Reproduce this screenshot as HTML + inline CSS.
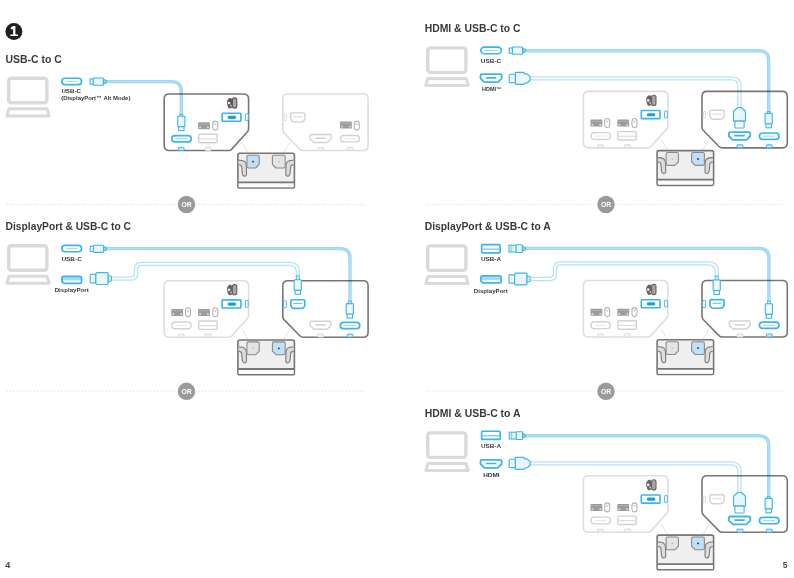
<!DOCTYPE html>
<html><head><meta charset="utf-8"><style>
html,body{margin:0;padding:0;width:794px;height:578px;overflow:hidden;background:#fff;}
svg{filter:blur(0.35px);} svg text{font-family:"Liberation Sans", sans-serif;}
</style></head><body>
<svg width="794" height="578" viewBox="0 0 794 578" style="position:absolute;left:0;top:0">
<rect width="794" height="578" fill="#fff"/>
<circle cx="13.9" cy="31.5" r="8.5" fill="#231f20"/>
<path d="M10.8,27.6 L13.2,26.1 L15.4,26.1 L15.4,34.6 L17.9,34.6 L17.9,36.0 L10.3,36.0 L10.3,34.6 L13.1,34.6 L13.1,28.9 L10.8,29.5 Z" fill="#fff"/>
<text x="5.60" y="62.80" font-size="10.2" font-weight="bold" fill="#3d3939" text-anchor="start" textLength="56.2" lengthAdjust="spacingAndGlyphs" >USB-C to C</text>
<text x="5.60" y="229.70" font-size="10.2" font-weight="bold" fill="#3d3939" text-anchor="start" textLength="125.4" lengthAdjust="spacingAndGlyphs" >DisplayPort &amp; USB-C to C</text>
<text x="424.70" y="31.70" font-size="10.2" font-weight="bold" fill="#3d3939" text-anchor="start" textLength="95.8" lengthAdjust="spacingAndGlyphs" >HDMI &amp; USB-C to C</text>
<text x="424.70" y="229.80" font-size="10.2" font-weight="bold" fill="#3d3939" text-anchor="start" textLength="126.0" lengthAdjust="spacingAndGlyphs" >DisplayPort &amp; USB-C to A</text>
<text x="424.70" y="416.60" font-size="10.2" font-weight="bold" fill="#3d3939" text-anchor="start" textLength="95.8" lengthAdjust="spacingAndGlyphs" >HDMI &amp; USB-C to A</text>
<rect x="8.70" y="78.30" width="38.20" height="24.50" rx="2.6" fill="none" stroke="#dadada" stroke-width="3.4" />
<path d="M9.0,108.8 L47.0,108.8 L49.2,115.89999999999999 L6.8,115.89999999999999 Z" fill="none" stroke="#dadada" stroke-width="3" stroke-linejoin="round"/>
<rect x="61.85" y="78.25" width="19.70" height="6.30" rx="3.15" fill="none" stroke="#3db5e6" stroke-width="1.7" />
<line x1="65.80" y1="81.40" x2="77.60" y2="81.40" stroke="#3db5e6" stroke-width="1.1" stroke-opacity="0.5"/>
<text x="61.40" y="93.00" font-size="5.9" font-weight="bold" fill="#3a3636" text-anchor="start" textLength="19.6" lengthAdjust="spacingAndGlyphs" >USB-C</text>
<text x="61.20" y="100.20" font-size="5.9" font-weight="bold" fill="#3a3636" text-anchor="start" textLength="69.2" lengthAdjust="spacingAndGlyphs" >(DisplayPort™ Alt Mode)</text>
<path d="M169.2,94.0 L243.6,94.0 Q248.6,94.0 248.6,99.0 L248.6,128.6 Q248.6,130.6 247.2,132.0 L231.79999999999998,149.1 Q230.39999999999998,150.5 228.39999999999998,150.5 L169.2,150.5 Q164.2,150.5 164.2,145.5 L164.2,99.0 Q164.2,94.0 169.2,94.0 Z" fill="#fff" stroke="#7c7575" stroke-width="1.6" stroke-linejoin="round"/>
<rect x="232.40" y="97.90" width="4.4" height="10.2" rx="2" fill="#aaa4a4" stroke="#5c5656" stroke-width="1.1"/>
<path d="M228.29999999999998,99.0 Q229.5,97.60000000000001 230.89999999999998,98.0 Q232.1,98.60000000000001 232.1,100.4 L232.1,106.80000000000001 Q231.89999999999998,108.60000000000001 230.1,108.5 Q228.29999999999998,108.4 227.89999999999998,106.60000000000001 L226.89999999999998,103.4 Q226.7,100.4 228.29999999999998,99.0 Z" fill="#5c5656"/>
<circle cx="229.00" cy="103.10" r="1.35" fill="#e8e8e8"/>
<circle cx="231.00" cy="105.60" r="0.85" fill="#d8d8d8"/>
<rect x="222.10" y="113.20" width="18.80" height="8.10" rx="0.8" fill="none" stroke="#3db5e6" stroke-width="1.6" />
<rect x="227.70" y="115.80" width="8.40" height="3.20" rx="1.4" fill="#1f9fd9" stroke="none" stroke-width="0" />
<rect x="245.40" y="113.80" width="2.80" height="6.80" rx="0.4" fill="#ffffff" stroke="#3db5e6" stroke-width="0.9" />
<rect x="198.10" y="122.20" width="11.8" height="7" rx="0.6" fill="#9c9c9c"/>
<line x1="198.70" y1="124.00" x2="209.30" y2="124.00" stroke="#b8b8b8" stroke-width="0.7"/>
<rect x="199.30" y="126.60" width="1.6" height="1.6" fill="#e6e6e6"/>
<rect x="207.10" y="126.60" width="1.6" height="1.6" fill="#e6e6e6"/>
<rect x="212.80" y="121.10" width="5.0" height="9.0" rx="2.5" fill="#fff" stroke="#b4b4b4" stroke-width="1.1"/>
<path d="M214.39999999999998,123.1 L215.29999999999998,125.1 L216.2,123.1" fill="none" stroke="#b4b4b4" stroke-width="0.7"/>
<rect x="171.75" y="135.65" width="19.40" height="6.20" rx="3.1" fill="none" stroke="#3db5e6" stroke-width="1.7" />
<line x1="175.70" y1="138.75" x2="187.20" y2="138.75" stroke="#3db5e6" stroke-width="1.1" stroke-opacity="0.5"/>
<rect x="198.70" y="134.30" width="18.40" height="8.40" rx="1.0" fill="none" stroke="#d2d2d2" stroke-width="1.4" />
<line x1="199.40" y1="138.89" x2="216.40" y2="138.89" stroke="#d2d2d2" stroke-width="1.1" stroke-opacity="0.85"/>
<rect x="178.40" y="147.40" width="5.60" height="3.00" rx="0.5" fill="#cdebf9" stroke="#3db5e6" stroke-width="1.0" />
<rect x="205.10" y="147.40" width="6.00" height="3.00" rx="0.5" fill="#f4f4f4" stroke="#d9d9d9" stroke-width="1.0" />
<path d="M287.8,94.0 L363.1,94.0 Q368.1,94.0 368.1,99.0 L368.1,145.5 Q368.1,150.5 363.1,150.5 L303.2,150.5 Q301.2,150.5 299.8,149.1 L284.2,133.2 Q282.8,131.8 282.8,129.8 L282.8,99.0 Q282.8,94.0 287.8,94.0 Z" fill="#fff" stroke="#dedede" stroke-width="1.6" stroke-linejoin="round"/>
<rect x="284.10" y="114.10" width="2.20" height="6.40" rx="0.4" fill="none" stroke="#dadada" stroke-width="0.9" />
<path d="M292.0,112.9 L303.6000000000001,112.9 Q305.00000000000006,112.9 305.00000000000006,114.30000000000001 L305.00000000000006,118.5 Q305.00000000000006,119.5 304.00000000000006,120.7 Q303.00000000000006,121.9 301.6000000000001,121.9 L294.0,121.9 Q292.6,121.9 291.6,120.7 Q290.6,119.5 290.6,118.5 L290.6,114.30000000000001 Q290.6,112.9 292.0,112.9 Z" fill="none" stroke="#d2d2d2" stroke-width="1.4" stroke-linejoin="round"/>
<line x1="293.50" y1="116.80" x2="302.10" y2="116.80" stroke="#d2d2d2" stroke-width="1.1" stroke-opacity="0.8"/>
<rect x="340.00" y="121.40" width="11.8" height="7" rx="0.6" fill="#9c9c9c"/>
<line x1="340.60" y1="123.20" x2="351.20" y2="123.20" stroke="#b8b8b8" stroke-width="0.7"/>
<rect x="341.20" y="125.80" width="1.6" height="1.6" fill="#e6e6e6"/>
<rect x="349.00" y="125.80" width="1.6" height="1.6" fill="#e6e6e6"/>
<rect x="354.30" y="121.10" width="5.0" height="9.0" rx="2.5" fill="#fff" stroke="#b4b4b4" stroke-width="1.1"/>
<path d="M355.90000000000003,123.1 L356.80000000000007,125.1 L357.70000000000005,123.1" fill="none" stroke="#b4b4b4" stroke-width="0.7"/>
<path d="M311.6,134.5 L329.6,134.5 Q331.1,134.5 331.1,136.0 L331.1,138.7 L327.90000000000003,141.90000000000003 Q327.5,142.50000000000003 326.70000000000005,142.50000000000003 L314.5,142.50000000000003 Q313.70000000000005,142.50000000000003 313.3,141.90000000000003 L310.1,138.7 L310.1,136.0 Q310.1,134.5 311.6,134.5 Z" fill="none" stroke="#d2d2d2" stroke-width="1.4" stroke-linejoin="round"/>
<line x1="316.12" y1="138.22" x2="325.08" y2="138.22" stroke="#d2d2d2" stroke-width="1.6" stroke-linecap="round"/>
<rect x="340.50" y="135.50" width="19.00" height="6.40" rx="3.2" fill="none" stroke="#d2d2d2" stroke-width="1.4" />
<line x1="344.60" y1="138.70" x2="355.40" y2="138.70" stroke="#d2d2d2" stroke-width="1.1" stroke-opacity="0.5"/>
<rect x="317.80" y="147.40" width="5.80" height="3.00" rx="0.5" fill="#f4f4f4" stroke="#d9d9d9" stroke-width="1.0" />
<rect x="347.30" y="147.40" width="5.60" height="3.00" rx="0.5" fill="#f4f4f4" stroke="#d9d9d9" stroke-width="1.0" />
<line x1="242.20" y1="142.40" x2="248.20" y2="153.00" stroke="#cccccc" stroke-width="0.6"/>
<line x1="290.20" y1="142.00" x2="283.40" y2="153.00" stroke="#cccccc" stroke-width="0.6"/>
<rect x="237.90" y="153.30" width="56.50" height="34.70" rx="1.8" fill="#efefef" stroke="#7a7474" stroke-width="1.6" />
<rect x="238.70" y="182.30" width="54.90" height="4.90" fill="#fbfbfb"/>
<line x1="238.10" y1="182.30" x2="294.20" y2="182.30" stroke="#7a7474" stroke-width="1.8"/>
<path d="M238.6,160.3 Q245.7,159.9 246.29999999999998,164.9 L246.5,174.1 Q246.29999999999998,176.5 244.1,176.1 Q242.7,175.7 242.29999999999998,173.5 L241.7,166.9 Q241.29999999999998,164.5 238.6,164.7" fill="#dcdcdc" stroke="#7e7878" stroke-width="1.1" stroke-linejoin="round"/>
<path d="M293.7,160.3 Q286.59999999999997,159.9 286.0,164.9 L285.8,174.1 Q286.0,176.5 288.2,176.1 Q289.59999999999997,175.7 290.0,173.5 L290.59999999999997,166.9 Q291.0,164.5 293.7,164.7" fill="#dcdcdc" stroke="#7e7878" stroke-width="1.1" stroke-linejoin="round"/>
<path d="M248.5,155.2 L257.59999999999997,155.2 Q259.2,155.2 259.2,156.79999999999998 L259.2,164.4 L255.6,168.0 L248.5,168.0 Q246.9,168.0 246.9,166.4 L246.9,156.79999999999998 Q246.9,155.2 248.5,155.2 Z" fill="#bfe0f6" stroke="#8a8a8a" stroke-width="1.1" stroke-linejoin="round"/>
<circle cx="253.05" cy="161.60" r="0.9" fill="#222"/>
<path d="M274.0,155.2 L283.59999999999997,155.2 Q285.2,155.2 285.2,156.79999999999998 L285.2,166.4 Q285.2,168.0 283.59999999999997,168.0 L276.0,168.0 L272.4,164.4 L272.4,156.79999999999998 Q272.4,155.2 274.0,155.2 Z" fill="#e4e4e4" stroke="#8a8a8a" stroke-width="1.1" stroke-linejoin="round"/>
<circle cx="278.80" cy="161.60" r="0.6" fill="#999"/>
<g style="mix-blend-mode:multiply"><path d="M106.5,81.6 L171.5,81.6 Q181.3,81.6 181.3,91.4 L181.3,115" fill="none" stroke="#9dd7f2" stroke-width="3.4" stroke-linecap="butt" stroke-linejoin="round"/><path d="M106.5,81.6 L171.5,81.6 Q181.3,81.6 181.3,91.4 L181.3,115" fill="none" stroke="#addff5" stroke-width="1.4" stroke-linecap="butt" stroke-linejoin="round"/></g>
<rect x="90.00" y="79.00" width="3.4" height="5.2" fill="#fff" stroke="#3db5e6" stroke-width="1.1"/>
<rect x="93.20" y="78.00" width="10.2" height="7.2" rx="0.8" fill="#eaf6fc" stroke="#3db5e6" stroke-width="1.15"/>
<path d="M103.4,79.39999999999999 L106.4,80.3 L106.4,82.89999999999999 L103.4,83.8 Z" fill="#8dd1f0" stroke="#3db5e6" stroke-width="1"/>
<rect x="179.80" y="114.40" width="3.0" height="2.40" fill="#d9f0fb" stroke="#3db5e6" stroke-width="0.9"/>
<rect x="177.70" y="116.20" width="7.2" height="10.6" rx="0.8" fill="#eaf6fc" stroke="#3db5e6" stroke-width="1.1"/>
<line x1="181.30" y1="117.80" x2="181.30" y2="125.20" stroke="#fff" stroke-width="1.6"/>
<rect x="178.60" y="126.80" width="5.4" height="3.8" fill="#fff" stroke="#3db5e6" stroke-width="1.1"/>
<rect x="8.70" y="245.70" width="38.20" height="24.50" rx="2.6" fill="none" stroke="#dadada" stroke-width="3.4" />
<path d="M9.0,276.2 L47.0,276.2 L49.2,283.3 L6.8,283.3 Z" fill="none" stroke="#dadada" stroke-width="3" stroke-linejoin="round"/>
<rect x="61.85" y="245.45" width="19.70" height="6.30" rx="3.15" fill="none" stroke="#3db5e6" stroke-width="1.7" />
<line x1="65.80" y1="248.60" x2="77.60" y2="248.60" stroke="#3db5e6" stroke-width="1.1" stroke-opacity="0.5"/>
<text x="61.40" y="261.20" font-size="5.6" font-weight="bold" fill="#3a3636" text-anchor="start" textLength="20.4" lengthAdjust="spacingAndGlyphs" >USB-C</text>
<rect x="62.50" y="276.90" width="18.40" height="3.70" rx="0.8" fill="#a6dbf3"/>
<path d="M63.5,276.29999999999995 L79.9,276.29999999999995 Q81.5,276.29999999999995 81.5,277.9 L81.5,281.7 Q81.5,283.3 79.9,283.3 L63.9,283.3 L61.9,281.3 L61.9,277.9 Q61.9,276.29999999999995 63.5,276.29999999999995 Z" fill="none" stroke="#3db5e6" stroke-width="1.8" stroke-linejoin="round"/>
<text x="71.70" y="292.40" font-size="5.6" font-weight="bold" fill="#3a3636" text-anchor="middle" textLength="34" lengthAdjust="spacingAndGlyphs" >DisplayPort</text>
<path d="M169.2,280.7 L243.6,280.7 Q248.6,280.7 248.6,285.7 L248.6,315.3 Q248.6,317.3 247.2,318.7 L231.79999999999998,335.8 Q230.39999999999998,337.2 228.39999999999998,337.2 L169.2,337.2 Q164.2,337.2 164.2,332.2 L164.2,285.7 Q164.2,280.7 169.2,280.7 Z" fill="#fff" stroke="#dedede" stroke-width="1.6" stroke-linejoin="round"/>
<rect x="232.40" y="284.60" width="4.4" height="10.2" rx="2" fill="#aaa4a4" stroke="#676262" stroke-width="1.1"/>
<path d="M228.29999999999998,285.7 Q229.5,284.29999999999995 230.89999999999998,284.7 Q232.1,285.29999999999995 232.1,287.09999999999997 L232.1,293.49999999999994 Q231.89999999999998,295.29999999999995 230.1,295.2 Q228.29999999999998,295.09999999999997 227.89999999999998,293.29999999999995 L226.89999999999998,290.09999999999997 Q226.7,287.09999999999997 228.29999999999998,285.7 Z" fill="#676262"/>
<circle cx="229.00" cy="289.80" r="1.35" fill="#e8e8e8"/>
<circle cx="231.00" cy="292.30" r="0.85" fill="#d8d8d8"/>
<rect x="222.10" y="299.90" width="18.80" height="8.10" rx="0.8" fill="none" stroke="#3db5e6" stroke-width="1.6" />
<rect x="227.70" y="302.50" width="8.40" height="3.20" rx="1.4" fill="#1f9fd9" stroke="none" stroke-width="0" />
<rect x="245.40" y="300.50" width="2.80" height="6.80" rx="0.4" fill="#ffffff" stroke="#3db5e6" stroke-width="0.9" />
<rect x="171.30" y="308.90" width="11.8" height="7" rx="0.6" fill="#9c9c9c"/>
<line x1="171.90" y1="310.70" x2="182.50" y2="310.70" stroke="#b8b8b8" stroke-width="0.7"/>
<rect x="172.50" y="313.30" width="1.6" height="1.6" fill="#e6e6e6"/>
<rect x="180.30" y="313.30" width="1.6" height="1.6" fill="#e6e6e6"/>
<rect x="185.50" y="307.80" width="5.0" height="9.0" rx="2.5" fill="#fff" stroke="#b4b4b4" stroke-width="1.1"/>
<path d="M187.09999999999997,309.8 L187.99999999999997,311.8 L188.89999999999998,309.8" fill="none" stroke="#b4b4b4" stroke-width="0.7"/>
<rect x="198.10" y="308.90" width="11.8" height="7" rx="0.6" fill="#9c9c9c"/>
<line x1="198.70" y1="310.70" x2="209.30" y2="310.70" stroke="#b8b8b8" stroke-width="0.7"/>
<rect x="199.30" y="313.30" width="1.6" height="1.6" fill="#e6e6e6"/>
<rect x="207.10" y="313.30" width="1.6" height="1.6" fill="#e6e6e6"/>
<rect x="212.80" y="307.80" width="5.0" height="9.0" rx="2.5" fill="#fff" stroke="#b4b4b4" stroke-width="1.1"/>
<path d="M214.39999999999998,309.8 L215.29999999999998,311.8 L216.2,309.8" fill="none" stroke="#b4b4b4" stroke-width="0.7"/>
<rect x="171.80" y="322.00" width="19.40" height="6.80" rx="3.3999999999999995" fill="none" stroke="#d2d2d2" stroke-width="1.4" />
<line x1="175.90" y1="325.40" x2="187.10" y2="325.40" stroke="#d2d2d2" stroke-width="1.1" stroke-opacity="0.5"/>
<rect x="198.70" y="321.00" width="18.40" height="8.40" rx="1.0" fill="none" stroke="#d2d2d2" stroke-width="1.4" />
<line x1="199.40" y1="325.59" x2="216.40" y2="325.59" stroke="#d2d2d2" stroke-width="1.1" stroke-opacity="0.85"/>
<rect x="178.40" y="334.10" width="5.60" height="3.00" rx="0.5" fill="#f4f4f4" stroke="#d9d9d9" stroke-width="1.0" />
<rect x="205.10" y="334.10" width="6.00" height="3.00" rx="0.5" fill="#f4f4f4" stroke="#d9d9d9" stroke-width="1.0" />
<path d="M287.8,280.7 L363.1,280.7 Q368.1,280.7 368.1,285.7 L368.1,332.2 Q368.1,337.2 363.1,337.2 L303.2,337.2 Q301.2,337.2 299.8,335.8 L284.2,319.9 Q282.8,318.5 282.8,316.5 L282.8,285.7 Q282.8,280.7 287.8,280.7 Z" fill="#fff" stroke="#7c7575" stroke-width="1.6" stroke-linejoin="round"/>
<rect x="283.50" y="300.80" width="2.90" height="6.90" rx="0.4" fill="#ffffff" stroke="#3db5e6" stroke-width="0.9" />
<path d="M292.15000000000003,299.75 L303.45000000000005,299.75 Q304.85,299.75 304.85,301.15 L304.85,305.04999999999995 Q304.85,306.04999999999995 303.85,307.24999999999994 Q302.85,308.44999999999993 301.45000000000005,308.44999999999993 L294.15000000000003,308.44999999999993 Q292.75000000000006,308.44999999999993 291.75000000000006,307.24999999999994 Q290.75000000000006,306.04999999999995 290.75000000000006,305.04999999999995 L290.75000000000006,301.15 Q290.75000000000006,299.75 292.15000000000003,299.75 Z" fill="none" stroke="#3db5e6" stroke-width="1.7" stroke-linejoin="round"/>
<line x1="293.50" y1="303.50" x2="302.10" y2="303.50" stroke="#3db5e6" stroke-width="1.1" stroke-opacity="0.8"/>
<path d="M311.6,321.2 L329.6,321.2 Q331.1,321.2 331.1,322.7 L331.1,325.4 L327.90000000000003,328.59999999999997 Q327.5,329.2 326.70000000000005,329.2 L314.5,329.2 Q313.70000000000005,329.2 313.3,328.59999999999997 L310.1,325.4 L310.1,322.7 Q310.1,321.2 311.6,321.2 Z" fill="none" stroke="#d2d2d2" stroke-width="1.4" stroke-linejoin="round"/>
<line x1="316.12" y1="324.92" x2="325.08" y2="324.92" stroke="#d2d2d2" stroke-width="1.6" stroke-linecap="round"/>
<rect x="340.25" y="322.35" width="19.50" height="6.30" rx="3.15" fill="none" stroke="#3db5e6" stroke-width="1.7" />
<line x1="344.20" y1="325.50" x2="355.80" y2="325.50" stroke="#3db5e6" stroke-width="1.1" stroke-opacity="0.5"/>
<rect x="317.80" y="334.10" width="5.80" height="3.00" rx="0.5" fill="#f4f4f4" stroke="#d9d9d9" stroke-width="1.0" />
<rect x="347.30" y="334.10" width="5.60" height="3.00" rx="0.5" fill="#cdebf9" stroke="#3db5e6" stroke-width="1.0" />
<line x1="242.20" y1="329.10" x2="248.20" y2="339.70" stroke="#cccccc" stroke-width="0.6"/>
<line x1="290.20" y1="328.70" x2="283.40" y2="339.70" stroke="#cccccc" stroke-width="0.6"/>
<rect x="237.90" y="340.00" width="56.50" height="34.70" rx="1.8" fill="#efefef" stroke="#7a7474" stroke-width="1.6" />
<rect x="238.70" y="369.00" width="54.90" height="4.90" fill="#fbfbfb"/>
<line x1="238.10" y1="369.00" x2="294.20" y2="369.00" stroke="#7a7474" stroke-width="1.8"/>
<path d="M238.6,347.0 Q245.7,346.59999999999997 246.29999999999998,351.59999999999997 L246.5,360.8 Q246.29999999999998,363.2 244.1,362.8 Q242.7,362.4 242.29999999999998,360.2 L241.7,353.59999999999997 Q241.29999999999998,351.2 238.6,351.4" fill="#dcdcdc" stroke="#7e7878" stroke-width="1.1" stroke-linejoin="round"/>
<path d="M293.7,347.0 Q286.59999999999997,346.59999999999997 286.0,351.59999999999997 L285.8,360.8 Q286.0,363.2 288.2,362.8 Q289.59999999999997,362.4 290.0,360.2 L290.59999999999997,353.59999999999997 Q291.0,351.2 293.7,351.4" fill="#dcdcdc" stroke="#7e7878" stroke-width="1.1" stroke-linejoin="round"/>
<path d="M248.5,341.9 L257.59999999999997,341.9 Q259.2,341.9 259.2,343.5 L259.2,351.09999999999997 L255.6,354.7 L248.5,354.7 Q246.9,354.7 246.9,353.09999999999997 L246.9,343.5 Q246.9,341.9 248.5,341.9 Z" fill="#e4e4e4" stroke="#8a8a8a" stroke-width="1.1" stroke-linejoin="round"/>
<circle cx="253.05" cy="348.30" r="0.6" fill="#999"/>
<path d="M274.0,341.9 L283.59999999999997,341.9 Q285.2,341.9 285.2,343.5 L285.2,353.09999999999997 Q285.2,354.7 283.59999999999997,354.7 L276.0,354.7 L272.4,351.09999999999997 L272.4,343.5 Q272.4,341.9 274.0,341.9 Z" fill="#bfe0f6" stroke="#8a8a8a" stroke-width="1.1" stroke-linejoin="round"/>
<circle cx="278.80" cy="348.30" r="0.9" fill="#222"/>
<g style="mix-blend-mode:multiply"><path d="M106.8,248.6 L340.5,248.6 Q350,248.6 350,258 L350,301.6" fill="none" stroke="#9dd7f2" stroke-width="3.4" stroke-linecap="butt" stroke-linejoin="round"/><path d="M106.8,248.6 L340.5,248.6 Q350,248.6 350,258 L350,301.6" fill="none" stroke="#addff5" stroke-width="1.4" stroke-linecap="butt" stroke-linejoin="round"/></g>
<g style="mix-blend-mode:multiply"><path d="M111.6,278.6 L130.8,278.6 Q136,278.6 136,273.4 L136,269.1 Q136,263.9 141.2,263.9 L289.8,263.9 Q297.8,263.9 297.8,271.9 L297.8,276" fill="none" stroke="#b8e2f6" stroke-width="4.4" stroke-linecap="butt" stroke-linejoin="round"/><path d="M111.6,278.6 L130.8,278.6 Q136,278.6 136,273.4 L136,269.1 Q136,263.9 141.2,263.9 L289.8,263.9 Q297.8,263.9 297.8,271.9 L297.8,276" fill="none" stroke="#ffffff" stroke-width="1.8" stroke-linecap="butt" stroke-linejoin="round"/></g>
<rect x="90.20" y="246.20" width="3.4" height="5.2" fill="#fff" stroke="#3db5e6" stroke-width="1.1"/>
<rect x="93.40" y="245.20" width="10.2" height="7.2" rx="0.8" fill="#eaf6fc" stroke="#3db5e6" stroke-width="1.15"/>
<path d="M103.6,246.60000000000002 L106.6,247.5 L106.6,250.10000000000002 L103.6,251.0 Z" fill="#8dd1f0" stroke="#3db5e6" stroke-width="1"/>
<rect x="90.20" y="274.40" width="5.6" height="8.4" rx="0.8" fill="#fff" stroke="#3db5e6" stroke-width="1.15"/>
<line x1="92.80" y1="276.00" x2="92.80" y2="281.20" stroke="#3db5e6" stroke-opacity="0.3" stroke-width="0.8"/>
<rect x="95.80" y="272.70" width="12.4" height="11.8" rx="1.2" fill="#eaf5fc" stroke="#3db5e6" stroke-width="1.2"/>
<path d="M108.19999999999999,275.40000000000003 L111.39999999999999,276.20000000000005 L111.39999999999999,281.0 L108.19999999999999,281.8 Z" fill="#d4eefa" stroke="#3db5e6" stroke-width="1"/>
<rect x="296.30" y="275.80" width="3.0" height="4.60" fill="#d9f0fb" stroke="#3db5e6" stroke-width="0.9"/>
<rect x="294.20" y="279.80" width="7.2" height="10.6" rx="0.8" fill="#eaf6fc" stroke="#3db5e6" stroke-width="1.1"/>
<line x1="297.80" y1="281.40" x2="297.80" y2="288.80" stroke="#fff" stroke-width="1.6"/>
<rect x="295.10" y="290.40" width="5.4" height="3.8" fill="#fff" stroke="#3db5e6" stroke-width="1.1"/>
<rect x="348.30" y="301.00" width="3.0" height="3.20" fill="#d9f0fb" stroke="#3db5e6" stroke-width="0.9"/>
<rect x="346.20" y="303.60" width="7.2" height="10.6" rx="0.8" fill="#eaf6fc" stroke="#3db5e6" stroke-width="1.1"/>
<line x1="349.80" y1="305.20" x2="349.80" y2="312.60" stroke="#fff" stroke-width="1.6"/>
<rect x="347.10" y="314.20" width="5.4" height="3.8" fill="#fff" stroke="#3db5e6" stroke-width="1.1"/>
<rect x="427.70" y="47.90" width="38.20" height="24.50" rx="2.6" fill="none" stroke="#dadada" stroke-width="3.4" />
<path d="M428.0,78.4 L466.0,78.4 L468.2,85.5 L425.8,85.5 Z" fill="none" stroke="#dadada" stroke-width="3" stroke-linejoin="round"/>
<rect x="480.85" y="47.05" width="20.50" height="6.70" rx="3.35" fill="none" stroke="#3db5e6" stroke-width="1.7" />
<line x1="484.80" y1="50.40" x2="497.40" y2="50.40" stroke="#3db5e6" stroke-width="1.1" stroke-opacity="0.5"/>
<text x="480.80" y="62.80" font-size="5.6" font-weight="bold" fill="#3a3636" text-anchor="start" textLength="20.4" lengthAdjust="spacingAndGlyphs" >USB-C</text>
<path d="M482.0,74.2 L500.20000000000005,74.2 Q501.70000000000005,74.2 501.70000000000005,75.7 L501.70000000000005,78.4 L498.50000000000006,81.6 Q498.1,82.19999999999999 497.30000000000007,82.19999999999999 L484.9,82.19999999999999 Q484.1,82.19999999999999 483.7,81.6 L480.5,78.4 L480.5,75.7 Q480.5,74.2 482.0,74.2 Z" fill="none" stroke="#3db5e6" stroke-width="1.8" stroke-linejoin="round"/>
<line x1="486.50" y1="77.91" x2="495.70" y2="77.91" stroke="#3db5e6" stroke-width="1.6" stroke-linecap="round"/>
<text x="482.00" y="91.40" font-size="5.6" font-weight="bold" fill="#3a3636" text-anchor="start" textLength="19.6" lengthAdjust="spacingAndGlyphs" >HDMI™</text>
<path d="M588.4,91.35 L662.8,91.35 Q667.8,91.35 667.8,96.35 L667.8,125.94999999999999 Q667.8,127.94999999999999 666.4,129.35 L651.0,146.45 Q649.6,147.85 647.6,147.85 L588.4,147.85 Q583.4,147.85 583.4,142.85 L583.4,96.35 Q583.4,91.35 588.4,91.35 Z" fill="#fff" stroke="#dedede" stroke-width="1.6" stroke-linejoin="round"/>
<rect x="651.60" y="95.25" width="4.4" height="10.2" rx="2" fill="#aaa4a4" stroke="#676262" stroke-width="1.1"/>
<path d="M647.5,96.35 Q648.6999999999999,94.95 650.1,95.35 Q651.3,95.95 651.3,97.75 L651.3,104.15 Q651.1,105.95 649.3,105.85 Q647.5,105.75 647.1,103.95 L646.1,100.75 Q645.9,97.75 647.5,96.35 Z" fill="#676262"/>
<circle cx="648.20" cy="100.45" r="1.35" fill="#e8e8e8"/>
<circle cx="650.20" cy="102.95" r="0.85" fill="#d8d8d8"/>
<rect x="641.30" y="110.55" width="18.80" height="8.10" rx="0.8" fill="none" stroke="#3db5e6" stroke-width="1.6" />
<rect x="646.90" y="113.15" width="8.40" height="3.20" rx="1.4" fill="#1f9fd9" stroke="none" stroke-width="0" />
<rect x="664.60" y="111.15" width="2.80" height="6.80" rx="0.4" fill="#ffffff" stroke="#3db5e6" stroke-width="0.9" />
<rect x="590.50" y="119.55" width="11.8" height="7" rx="0.6" fill="#9c9c9c"/>
<line x1="591.10" y1="121.35" x2="601.70" y2="121.35" stroke="#b8b8b8" stroke-width="0.7"/>
<rect x="591.70" y="123.95" width="1.6" height="1.6" fill="#e6e6e6"/>
<rect x="599.50" y="123.95" width="1.6" height="1.6" fill="#e6e6e6"/>
<rect x="604.70" y="118.45" width="5.0" height="9.0" rx="2.5" fill="#fff" stroke="#b4b4b4" stroke-width="1.1"/>
<path d="M606.3000000000001,120.44999999999999 L607.2,122.44999999999999 L608.1,120.44999999999999" fill="none" stroke="#b4b4b4" stroke-width="0.7"/>
<rect x="617.30" y="119.55" width="11.8" height="7" rx="0.6" fill="#9c9c9c"/>
<line x1="617.90" y1="121.35" x2="628.50" y2="121.35" stroke="#b8b8b8" stroke-width="0.7"/>
<rect x="618.50" y="123.95" width="1.6" height="1.6" fill="#e6e6e6"/>
<rect x="626.30" y="123.95" width="1.6" height="1.6" fill="#e6e6e6"/>
<rect x="632.00" y="118.45" width="5.0" height="9.0" rx="2.5" fill="#fff" stroke="#b4b4b4" stroke-width="1.1"/>
<path d="M633.6,120.44999999999999 L634.5,122.44999999999999 L635.4,120.44999999999999" fill="none" stroke="#b4b4b4" stroke-width="0.7"/>
<rect x="591.00" y="132.65" width="19.40" height="6.80" rx="3.3999999999999995" fill="none" stroke="#d2d2d2" stroke-width="1.4" />
<line x1="595.10" y1="136.05" x2="606.30" y2="136.05" stroke="#d2d2d2" stroke-width="1.1" stroke-opacity="0.5"/>
<rect x="617.90" y="131.65" width="18.40" height="8.40" rx="1.0" fill="none" stroke="#d2d2d2" stroke-width="1.4" />
<line x1="618.60" y1="136.24" x2="635.60" y2="136.24" stroke="#d2d2d2" stroke-width="1.1" stroke-opacity="0.85"/>
<rect x="597.60" y="144.75" width="5.60" height="3.00" rx="0.5" fill="#f4f4f4" stroke="#d9d9d9" stroke-width="1.0" />
<rect x="624.30" y="144.75" width="6.00" height="3.00" rx="0.5" fill="#f4f4f4" stroke="#d9d9d9" stroke-width="1.0" />
<path d="M707.0,91.35 L782.3,91.35 Q787.3,91.35 787.3,96.35 L787.3,142.85 Q787.3,147.85 782.3,147.85 L722.4,147.85 Q720.4,147.85 719.0,146.45 L703.4,130.55 Q702.0,129.14999999999998 702.0,127.14999999999999 L702.0,96.35 Q702.0,91.35 707.0,91.35 Z" fill="#fff" stroke="#7c7575" stroke-width="1.6" stroke-linejoin="round"/>
<rect x="703.30" y="111.45" width="2.20" height="6.40" rx="0.4" fill="none" stroke="#dadada" stroke-width="0.9" />
<path d="M711.2,110.25 L722.8,110.25 Q724.1999999999999,110.25 724.1999999999999,111.65 L724.1999999999999,115.85 Q724.1999999999999,116.85 723.1999999999999,118.05 Q722.1999999999999,119.25 720.8,119.25 L713.2,119.25 Q711.8000000000001,119.25 710.8000000000001,118.05 Q709.8000000000001,116.85 709.8000000000001,115.85 L709.8000000000001,111.65 Q709.8000000000001,110.25 711.2,110.25 Z" fill="none" stroke="#d2d2d2" stroke-width="1.4" stroke-linejoin="round"/>
<line x1="712.70" y1="114.15" x2="721.30" y2="114.15" stroke="#d2d2d2" stroke-width="1.1" stroke-opacity="0.8"/>
<path d="M730.4,132.04999999999998 L748.8000000000001,132.04999999999998 Q750.3000000000001,132.04999999999998 750.3000000000001,133.54999999999998 L750.3000000000001,136.24999999999997 L747.1,139.24999999999997 Q746.7,139.84999999999997 745.9000000000001,139.84999999999997 L733.3,139.84999999999997 Q732.5,139.84999999999997 732.1,139.24999999999997 L728.9,136.24999999999997 L728.9,133.54999999999998 Q728.9,132.04999999999998 730.4,132.04999999999998 Z" fill="none" stroke="#3db5e6" stroke-width="1.8" stroke-linejoin="round"/>
<line x1="734.96" y1="135.66" x2="744.24" y2="135.66" stroke="#3db5e6" stroke-width="1.6" stroke-linecap="round"/>
<rect x="759.45" y="133.00" width="19.50" height="6.30" rx="3.15" fill="none" stroke="#3db5e6" stroke-width="1.7" />
<line x1="763.40" y1="136.15" x2="775.00" y2="136.15" stroke="#3db5e6" stroke-width="1.1" stroke-opacity="0.5"/>
<rect x="737.00" y="144.75" width="5.80" height="3.00" rx="0.5" fill="#cdebf9" stroke="#3db5e6" stroke-width="1.0" />
<rect x="766.50" y="144.75" width="5.60" height="3.00" rx="0.5" fill="#cdebf9" stroke="#3db5e6" stroke-width="1.0" />
<line x1="661.40" y1="139.75" x2="667.40" y2="150.35" stroke="#cccccc" stroke-width="0.6"/>
<line x1="709.40" y1="139.35" x2="702.60" y2="150.35" stroke="#cccccc" stroke-width="0.6"/>
<rect x="657.10" y="150.65" width="56.50" height="34.70" rx="1.8" fill="#efefef" stroke="#7a7474" stroke-width="1.6" />
<rect x="657.90" y="179.65" width="54.90" height="4.90" fill="#fbfbfb"/>
<line x1="657.30" y1="179.65" x2="713.40" y2="179.65" stroke="#7a7474" stroke-width="1.8"/>
<path d="M657.8,157.65 Q664.9,157.25 665.5,162.25 L665.6999999999999,171.45 Q665.5,173.85 663.3,173.45 Q661.9,173.04999999999998 661.5,170.85 L660.9,164.25 Q660.5,161.85 657.8,162.04999999999998" fill="#dcdcdc" stroke="#7e7878" stroke-width="1.1" stroke-linejoin="round"/>
<path d="M712.9,157.65 Q705.8,157.25 705.1999999999999,162.25 L705.0,171.45 Q705.1999999999999,173.85 707.4,173.45 Q708.8,173.04999999999998 709.1999999999999,170.85 L709.8,164.25 Q710.1999999999999,161.85 712.9,162.04999999999998" fill="#dcdcdc" stroke="#7e7878" stroke-width="1.1" stroke-linejoin="round"/>
<path d="M667.6999999999999,152.54999999999998 L676.7999999999998,152.54999999999998 Q678.3999999999999,152.54999999999998 678.3999999999999,154.14999999999998 L678.3999999999999,161.75 L674.7999999999998,165.35 L667.6999999999999,165.35 Q666.0999999999999,165.35 666.0999999999999,163.75 L666.0999999999999,154.14999999999998 Q666.0999999999999,152.54999999999998 667.6999999999999,152.54999999999998 Z" fill="#e4e4e4" stroke="#8a8a8a" stroke-width="1.1" stroke-linejoin="round"/>
<circle cx="672.25" cy="158.95" r="0.6" fill="#999"/>
<path d="M693.1999999999999,152.54999999999998 L702.7999999999998,152.54999999999998 Q704.3999999999999,152.54999999999998 704.3999999999999,154.14999999999998 L704.3999999999999,163.75 Q704.3999999999999,165.35 702.7999999999998,165.35 L695.1999999999999,165.35 L691.5999999999999,161.75 L691.5999999999999,154.14999999999998 Q691.5999999999999,152.54999999999998 693.1999999999999,152.54999999999998 Z" fill="#bfe0f6" stroke="#8a8a8a" stroke-width="1.1" stroke-linejoin="round"/>
<circle cx="698.00" cy="158.95" r="0.9" fill="#222"/>
<g style="mix-blend-mode:multiply"><path d="M526.2,50.8 L759,50.8 Q768.7,50.8 768.7,60.4 L768.7,112" fill="none" stroke="#9dd7f2" stroke-width="3.4" stroke-linecap="butt" stroke-linejoin="round"/><path d="M526.2,50.8 L759,50.8 Q768.7,50.8 768.7,60.4 L768.7,112" fill="none" stroke="#addff5" stroke-width="1.4" stroke-linecap="butt" stroke-linejoin="round"/></g>
<g style="mix-blend-mode:multiply"><path d="M531,78.4 L731.5,78.4 Q739.5,78.4 739.5,86.4 L739.5,108" fill="none" stroke="#b8e2f6" stroke-width="4.4" stroke-linecap="butt" stroke-linejoin="round"/><path d="M531,78.4 L731.5,78.4 Q739.5,78.4 739.5,86.4 L739.5,108" fill="none" stroke="#ffffff" stroke-width="1.8" stroke-linecap="butt" stroke-linejoin="round"/></g>
<rect x="509.20" y="48.00" width="3.4" height="5.2" fill="#fff" stroke="#3db5e6" stroke-width="1.1"/>
<rect x="512.40" y="47.00" width="10.2" height="7.2" rx="0.8" fill="#eaf6fc" stroke="#3db5e6" stroke-width="1.15"/>
<path d="M522.6,48.4 L525.6,49.300000000000004 L525.6,51.9 L522.6,52.800000000000004 Z" fill="#8dd1f0" stroke="#3db5e6" stroke-width="1"/>
<rect x="509.20" y="74.20" width="6.2" height="8.4" rx="1" fill="#fff" stroke="#3db5e6" stroke-width="1.15"/>
<line x1="512.00" y1="75.80" x2="512.00" y2="81.00" stroke="#3db5e6" stroke-opacity="0.3" stroke-width="0.8"/>
<path d="M515.4,72.80000000000001 Q515.4,72.4 516.0,72.4 L523.8000000000001,72.4 L525.0,73.80000000000001 L527.2,73.80000000000001 L530.2,76.80000000000001 L530.2,80.0 L527.2,83.0 L525.0,83.0 L523.8000000000001,84.4 L516.0,84.4 Q515.4,84.4 515.4,84.0 Z" fill="#eaf5fc" stroke="#3db5e6" stroke-width="1.2" stroke-linejoin="round"/>
<rect x="767.20" y="111.60" width="3.0" height="2.40" fill="#d9f0fb" stroke="#3db5e6" stroke-width="0.9"/>
<rect x="765.10" y="113.40" width="7.2" height="10.6" rx="0.8" fill="#eaf6fc" stroke="#3db5e6" stroke-width="1.1"/>
<line x1="768.70" y1="115.00" x2="768.70" y2="122.40" stroke="#fff" stroke-width="1.6"/>
<rect x="766.00" y="124.00" width="5.4" height="3.8" fill="#fff" stroke="#3db5e6" stroke-width="1.1"/>
<path d="M737.9,107.5 L741.1,107.5 L744.5,110.3 Q745.5,111.1 745.5,112.3 L745.5,121.1 L733.5,121.1 L733.5,112.3 Q733.5,111.1 734.5,110.3 Z" fill="#eaf5fc" stroke="#3db5e6" stroke-width="1.2" stroke-linejoin="round"/>
<rect x="734.90" y="121.10" width="9.2" height="6.9" rx="0.8" fill="#fff" stroke="#3db5e6" stroke-width="1.15"/>
<line x1="736.90" y1="124.10" x2="742.10" y2="124.10" stroke="#3db5e6" stroke-opacity="0.3" stroke-width="0.8"/>
<rect x="427.70" y="245.90" width="38.20" height="24.50" rx="2.6" fill="none" stroke="#dadada" stroke-width="3.4" />
<path d="M428.0,276.4 L466.0,276.4 L468.2,283.5 L425.8,283.5 Z" fill="none" stroke="#dadada" stroke-width="3" stroke-linejoin="round"/>
<rect x="481.65" y="244.65" width="18.50" height="8.20" rx="1.0" fill="none" stroke="#3db5e6" stroke-width="1.7" />
<line x1="482.50" y1="249.15" x2="499.30" y2="249.15" stroke="#3db5e6" stroke-width="1.1" stroke-opacity="0.85"/>
<text x="481.00" y="261.00" font-size="5.6" font-weight="bold" fill="#3a3636" text-anchor="start" textLength="20" lengthAdjust="spacingAndGlyphs" >USB-A</text>
<rect x="481.50" y="276.50" width="19.00" height="3.70" rx="0.8" fill="#a6dbf3"/>
<path d="M482.5,275.9 L499.5,275.9 Q501.1,275.9 501.1,277.5 L501.1,281.3 Q501.1,282.90000000000003 499.5,282.90000000000003 L482.9,282.90000000000003 L480.9,280.90000000000003 L480.9,277.5 Q480.9,275.9 482.5,275.9 Z" fill="none" stroke="#3db5e6" stroke-width="1.8" stroke-linejoin="round"/>
<text x="490.80" y="292.60" font-size="5.6" font-weight="bold" fill="#3a3636" text-anchor="middle" textLength="34" lengthAdjust="spacingAndGlyphs" >DisplayPort</text>
<path d="M588.4,280.5 L662.8,280.5 Q667.8,280.5 667.8,285.5 L667.8,315.1 Q667.8,317.1 666.4,318.5 L651.0,335.6 Q649.6,337.0 647.6,337.0 L588.4,337.0 Q583.4,337.0 583.4,332.0 L583.4,285.5 Q583.4,280.5 588.4,280.5 Z" fill="#fff" stroke="#dedede" stroke-width="1.6" stroke-linejoin="round"/>
<rect x="651.60" y="284.40" width="4.4" height="10.2" rx="2" fill="#aaa4a4" stroke="#676262" stroke-width="1.1"/>
<path d="M647.5,285.5 Q648.6999999999999,284.09999999999997 650.1,284.5 Q651.3,285.09999999999997 651.3,286.9 L651.3,293.29999999999995 Q651.1,295.09999999999997 649.3,295.0 Q647.5,294.9 647.1,293.09999999999997 L646.1,289.9 Q645.9,286.9 647.5,285.5 Z" fill="#676262"/>
<circle cx="648.20" cy="289.60" r="1.35" fill="#e8e8e8"/>
<circle cx="650.20" cy="292.10" r="0.85" fill="#d8d8d8"/>
<rect x="641.30" y="299.70" width="18.80" height="8.10" rx="0.8" fill="none" stroke="#3db5e6" stroke-width="1.6" />
<rect x="646.90" y="302.30" width="8.40" height="3.20" rx="1.4" fill="#1f9fd9" stroke="none" stroke-width="0" />
<rect x="664.60" y="300.30" width="2.80" height="6.80" rx="0.4" fill="#ffffff" stroke="#3db5e6" stroke-width="0.9" />
<rect x="590.50" y="308.70" width="11.8" height="7" rx="0.6" fill="#9c9c9c"/>
<line x1="591.10" y1="310.50" x2="601.70" y2="310.50" stroke="#b8b8b8" stroke-width="0.7"/>
<rect x="591.70" y="313.10" width="1.6" height="1.6" fill="#e6e6e6"/>
<rect x="599.50" y="313.10" width="1.6" height="1.6" fill="#e6e6e6"/>
<rect x="604.70" y="307.60" width="5.0" height="9.0" rx="2.5" fill="#fff" stroke="#b4b4b4" stroke-width="1.1"/>
<path d="M606.3000000000001,309.6 L607.2,311.6 L608.1,309.6" fill="none" stroke="#b4b4b4" stroke-width="0.7"/>
<rect x="617.30" y="308.70" width="11.8" height="7" rx="0.6" fill="#9c9c9c"/>
<line x1="617.90" y1="310.50" x2="628.50" y2="310.50" stroke="#b8b8b8" stroke-width="0.7"/>
<rect x="618.50" y="313.10" width="1.6" height="1.6" fill="#e6e6e6"/>
<rect x="626.30" y="313.10" width="1.6" height="1.6" fill="#e6e6e6"/>
<rect x="632.00" y="307.60" width="5.0" height="9.0" rx="2.5" fill="#fff" stroke="#b4b4b4" stroke-width="1.1"/>
<path d="M633.6,309.6 L634.5,311.6 L635.4,309.6" fill="none" stroke="#b4b4b4" stroke-width="0.7"/>
<rect x="591.00" y="321.80" width="19.40" height="6.80" rx="3.3999999999999995" fill="none" stroke="#d2d2d2" stroke-width="1.4" />
<line x1="595.10" y1="325.20" x2="606.30" y2="325.20" stroke="#d2d2d2" stroke-width="1.1" stroke-opacity="0.5"/>
<rect x="617.90" y="320.80" width="18.40" height="8.40" rx="1.0" fill="none" stroke="#d2d2d2" stroke-width="1.4" />
<line x1="618.60" y1="325.39" x2="635.60" y2="325.39" stroke="#d2d2d2" stroke-width="1.1" stroke-opacity="0.85"/>
<rect x="597.60" y="333.90" width="5.60" height="3.00" rx="0.5" fill="#f4f4f4" stroke="#d9d9d9" stroke-width="1.0" />
<rect x="624.30" y="333.90" width="6.00" height="3.00" rx="0.5" fill="#f4f4f4" stroke="#d9d9d9" stroke-width="1.0" />
<path d="M707.0,280.5 L782.3,280.5 Q787.3,280.5 787.3,285.5 L787.3,332.0 Q787.3,337.0 782.3,337.0 L722.4,337.0 Q720.4,337.0 719.0,335.6 L703.4,319.7 Q702.0,318.3 702.0,316.3 L702.0,285.5 Q702.0,280.5 707.0,280.5 Z" fill="#fff" stroke="#7c7575" stroke-width="1.6" stroke-linejoin="round"/>
<rect x="702.70" y="300.60" width="2.90" height="6.90" rx="0.4" fill="#ffffff" stroke="#3db5e6" stroke-width="0.9" />
<path d="M711.35,299.55 L722.65,299.55 Q724.05,299.55 724.05,300.95 L724.05,304.84999999999997 Q724.05,305.84999999999997 723.05,307.04999999999995 Q722.05,308.24999999999994 720.65,308.24999999999994 L713.35,308.24999999999994 Q711.95,308.24999999999994 710.95,307.04999999999995 Q709.95,305.84999999999997 709.95,304.84999999999997 L709.95,300.95 Q709.95,299.55 711.35,299.55 Z" fill="none" stroke="#3db5e6" stroke-width="1.7" stroke-linejoin="round"/>
<line x1="712.70" y1="303.30" x2="721.30" y2="303.30" stroke="#3db5e6" stroke-width="1.1" stroke-opacity="0.8"/>
<path d="M730.8000000000001,321.0 L748.8,321.0 Q750.3,321.0 750.3,322.5 L750.3,325.2 L747.0999999999999,328.4 Q746.6999999999999,329.0 745.9,329.0 L733.7,329.0 Q732.9000000000001,329.0 732.5000000000001,328.4 L729.3000000000001,325.2 L729.3000000000001,322.5 Q729.3000000000001,321.0 730.8000000000001,321.0 Z" fill="none" stroke="#d2d2d2" stroke-width="1.4" stroke-linejoin="round"/>
<line x1="735.32" y1="324.72" x2="744.28" y2="324.72" stroke="#d2d2d2" stroke-width="1.6" stroke-linecap="round"/>
<rect x="759.45" y="322.15" width="19.50" height="6.30" rx="3.15" fill="none" stroke="#3db5e6" stroke-width="1.7" />
<line x1="763.40" y1="325.30" x2="775.00" y2="325.30" stroke="#3db5e6" stroke-width="1.1" stroke-opacity="0.5"/>
<rect x="737.00" y="333.90" width="5.80" height="3.00" rx="0.5" fill="#f4f4f4" stroke="#d9d9d9" stroke-width="1.0" />
<rect x="766.50" y="333.90" width="5.60" height="3.00" rx="0.5" fill="#cdebf9" stroke="#3db5e6" stroke-width="1.0" />
<line x1="661.40" y1="328.90" x2="667.40" y2="339.50" stroke="#cccccc" stroke-width="0.6"/>
<line x1="709.40" y1="328.50" x2="702.60" y2="339.50" stroke="#cccccc" stroke-width="0.6"/>
<rect x="657.10" y="339.80" width="56.50" height="34.70" rx="1.8" fill="#efefef" stroke="#7a7474" stroke-width="1.6" />
<rect x="657.90" y="368.80" width="54.90" height="4.90" fill="#fbfbfb"/>
<line x1="657.30" y1="368.80" x2="713.40" y2="368.80" stroke="#7a7474" stroke-width="1.8"/>
<path d="M657.8,346.8 Q664.9,346.4 665.5,351.4 L665.6999999999999,360.6 Q665.5,363.0 663.3,362.6 Q661.9,362.2 661.5,360.0 L660.9,353.4 Q660.5,351.0 657.8,351.2" fill="#dcdcdc" stroke="#7e7878" stroke-width="1.1" stroke-linejoin="round"/>
<path d="M712.9,346.8 Q705.8,346.4 705.1999999999999,351.4 L705.0,360.6 Q705.1999999999999,363.0 707.4,362.6 Q708.8,362.2 709.1999999999999,360.0 L709.8,353.4 Q710.1999999999999,351.0 712.9,351.2" fill="#dcdcdc" stroke="#7e7878" stroke-width="1.1" stroke-linejoin="round"/>
<path d="M667.6999999999999,341.7 L676.7999999999998,341.7 Q678.3999999999999,341.7 678.3999999999999,343.3 L678.3999999999999,350.9 L674.7999999999998,354.5 L667.6999999999999,354.5 Q666.0999999999999,354.5 666.0999999999999,352.9 L666.0999999999999,343.3 Q666.0999999999999,341.7 667.6999999999999,341.7 Z" fill="#e4e4e4" stroke="#8a8a8a" stroke-width="1.1" stroke-linejoin="round"/>
<circle cx="672.25" cy="348.10" r="0.6" fill="#999"/>
<path d="M693.1999999999999,341.7 L702.7999999999998,341.7 Q704.3999999999999,341.7 704.3999999999999,343.3 L704.3999999999999,352.9 Q704.3999999999999,354.5 702.7999999999998,354.5 L695.1999999999999,354.5 L691.5999999999999,350.9 L691.5999999999999,343.3 Q691.5999999999999,341.7 693.1999999999999,341.7 Z" fill="#bfe0f6" stroke="#8a8a8a" stroke-width="1.1" stroke-linejoin="round"/>
<circle cx="698.00" cy="348.10" r="0.9" fill="#222"/>
<g style="mix-blend-mode:multiply"><path d="M526,248.4 L759,248.4 Q768.9,248.4 768.9,258 L768.9,301.6" fill="none" stroke="#9dd7f2" stroke-width="3.4" stroke-linecap="butt" stroke-linejoin="round"/><path d="M526,248.4 L759,248.4 Q768.9,248.4 768.9,258 L768.9,301.6" fill="none" stroke="#addff5" stroke-width="1.4" stroke-linecap="butt" stroke-linejoin="round"/></g>
<g style="mix-blend-mode:multiply"><path d="M530.6,279.0 L549.8,279.0 Q555,279.0 555,273.8 L555,268.6 Q555,263.4 560.2,263.4 L708.7,263.4 Q716.7,263.4 716.7,271.4 L716.7,276" fill="none" stroke="#b8e2f6" stroke-width="4.4" stroke-linecap="butt" stroke-linejoin="round"/><path d="M530.6,279.0 L549.8,279.0 Q555,279.0 555,273.8 L555,268.6 Q555,263.4 560.2,263.4 L708.7,263.4 Q716.7,263.4 716.7,271.4 L716.7,276" fill="none" stroke="#ffffff" stroke-width="1.8" stroke-linecap="butt" stroke-linejoin="round"/></g>
<rect x="509.00" y="245.20" width="7.2" height="6.8" fill="#fff" stroke="#3db5e6" stroke-width="1.1"/>
<line x1="511.00" y1="245.80" x2="511.00" y2="251.40" stroke="#3db5e6" stroke-width="0.9"/>
<line x1="512.80" y1="245.80" x2="512.80" y2="251.40" stroke="#3db5e6" stroke-opacity="0.5" stroke-width="0.8"/>
<rect x="516.00" y="244.70" width="6.4" height="7.8" rx="0.8" fill="#eaf6fc" stroke="#3db5e6" stroke-width="1.15"/>
<path d="M522.4,246.4 L525.4,247.29999999999998 L525.4,249.9 L522.4,250.79999999999998 Z" fill="#8dd1f0" stroke="#3db5e6" stroke-width="1"/>
<rect x="509.00" y="274.80" width="5.6" height="8.4" rx="0.8" fill="#fff" stroke="#3db5e6" stroke-width="1.15"/>
<line x1="511.60" y1="276.40" x2="511.60" y2="281.60" stroke="#3db5e6" stroke-opacity="0.3" stroke-width="0.8"/>
<rect x="514.60" y="273.10" width="12.4" height="11.8" rx="1.2" fill="#eaf5fc" stroke="#3db5e6" stroke-width="1.2"/>
<path d="M527.0,275.8 L530.1999999999999,276.6 L530.1999999999999,281.4 L527.0,282.2 Z" fill="#d4eefa" stroke="#3db5e6" stroke-width="1"/>
<rect x="715.20" y="276.00" width="3.0" height="4.60" fill="#d9f0fb" stroke="#3db5e6" stroke-width="0.9"/>
<rect x="713.10" y="280.00" width="7.2" height="10.6" rx="0.8" fill="#eaf6fc" stroke="#3db5e6" stroke-width="1.1"/>
<line x1="716.70" y1="281.60" x2="716.70" y2="289.00" stroke="#fff" stroke-width="1.6"/>
<rect x="714.00" y="290.60" width="5.4" height="3.8" fill="#fff" stroke="#3db5e6" stroke-width="1.1"/>
<rect x="767.40" y="301.20" width="3.0" height="3.20" fill="#d9f0fb" stroke="#3db5e6" stroke-width="0.9"/>
<rect x="765.30" y="303.80" width="7.2" height="10.6" rx="0.8" fill="#eaf6fc" stroke="#3db5e6" stroke-width="1.1"/>
<line x1="768.90" y1="305.40" x2="768.90" y2="312.80" stroke="#fff" stroke-width="1.6"/>
<rect x="766.20" y="314.40" width="5.4" height="3.8" fill="#fff" stroke="#3db5e6" stroke-width="1.1"/>
<rect x="427.70" y="432.90" width="38.20" height="24.50" rx="2.6" fill="none" stroke="#dadada" stroke-width="3.4" />
<path d="M428.0,463.4 L466.0,463.4 L468.2,470.5 L425.8,470.5 Z" fill="none" stroke="#dadada" stroke-width="3" stroke-linejoin="round"/>
<rect x="481.65" y="431.25" width="18.50" height="8.20" rx="1.0" fill="none" stroke="#3db5e6" stroke-width="1.7" />
<line x1="482.50" y1="435.75" x2="499.30" y2="435.75" stroke="#3db5e6" stroke-width="1.1" stroke-opacity="0.85"/>
<text x="481.00" y="448.00" font-size="5.6" font-weight="bold" fill="#3a3636" text-anchor="start" textLength="20" lengthAdjust="spacingAndGlyphs" >USB-A</text>
<path d="M482.0,459.79999999999995 L500.20000000000005,459.79999999999995 Q501.70000000000005,459.79999999999995 501.70000000000005,461.29999999999995 L501.70000000000005,463.99999999999994 L498.50000000000006,467.2 Q498.1,467.8 497.30000000000007,467.8 L484.9,467.8 Q484.1,467.8 483.7,467.2 L480.5,463.99999999999994 L480.5,461.29999999999995 Q480.5,459.79999999999995 482.0,459.79999999999995 Z" fill="none" stroke="#3db5e6" stroke-width="1.8" stroke-linejoin="round"/>
<line x1="486.50" y1="463.51" x2="495.70" y2="463.51" stroke="#3db5e6" stroke-width="1.6" stroke-linecap="round"/>
<text x="483.20" y="477.10" font-size="5.6" font-weight="bold" fill="#3a3636" text-anchor="start" textLength="16.4" lengthAdjust="spacingAndGlyphs" >HDMI</text>
<path d="M588.4,475.8 L662.8,475.8 Q667.8,475.8 667.8,480.8 L667.8,510.40000000000003 Q667.8,512.4 666.4,513.8 L651.0,530.9 Q649.6,532.3 647.6,532.3 L588.4,532.3 Q583.4,532.3 583.4,527.3 L583.4,480.8 Q583.4,475.8 588.4,475.8 Z" fill="#fff" stroke="#dedede" stroke-width="1.6" stroke-linejoin="round"/>
<rect x="651.60" y="479.70" width="4.4" height="10.2" rx="2" fill="#aaa4a4" stroke="#676262" stroke-width="1.1"/>
<path d="M647.5,480.8 Q648.6999999999999,479.4 650.1,479.8 Q651.3,480.4 651.3,482.2 L651.3,488.59999999999997 Q651.1,490.4 649.3,490.3 Q647.5,490.2 647.1,488.4 L646.1,485.2 Q645.9,482.2 647.5,480.8 Z" fill="#676262"/>
<circle cx="648.20" cy="484.90" r="1.35" fill="#e8e8e8"/>
<circle cx="650.20" cy="487.40" r="0.85" fill="#d8d8d8"/>
<rect x="641.30" y="495.00" width="18.80" height="8.10" rx="0.8" fill="none" stroke="#3db5e6" stroke-width="1.6" />
<rect x="646.90" y="497.60" width="8.40" height="3.20" rx="1.4" fill="#1f9fd9" stroke="none" stroke-width="0" />
<rect x="664.60" y="495.60" width="2.80" height="6.80" rx="0.4" fill="#ffffff" stroke="#3db5e6" stroke-width="0.9" />
<rect x="590.50" y="504.00" width="11.8" height="7" rx="0.6" fill="#9c9c9c"/>
<line x1="591.10" y1="505.80" x2="601.70" y2="505.80" stroke="#b8b8b8" stroke-width="0.7"/>
<rect x="591.70" y="508.40" width="1.6" height="1.6" fill="#e6e6e6"/>
<rect x="599.50" y="508.40" width="1.6" height="1.6" fill="#e6e6e6"/>
<rect x="604.70" y="502.90" width="5.0" height="9.0" rx="2.5" fill="#fff" stroke="#b4b4b4" stroke-width="1.1"/>
<path d="M606.3000000000001,504.90000000000003 L607.2,506.90000000000003 L608.1,504.90000000000003" fill="none" stroke="#b4b4b4" stroke-width="0.7"/>
<rect x="617.30" y="504.00" width="11.8" height="7" rx="0.6" fill="#9c9c9c"/>
<line x1="617.90" y1="505.80" x2="628.50" y2="505.80" stroke="#b8b8b8" stroke-width="0.7"/>
<rect x="618.50" y="508.40" width="1.6" height="1.6" fill="#e6e6e6"/>
<rect x="626.30" y="508.40" width="1.6" height="1.6" fill="#e6e6e6"/>
<rect x="632.00" y="502.90" width="5.0" height="9.0" rx="2.5" fill="#fff" stroke="#b4b4b4" stroke-width="1.1"/>
<path d="M633.6,504.90000000000003 L634.5,506.90000000000003 L635.4,504.90000000000003" fill="none" stroke="#b4b4b4" stroke-width="0.7"/>
<rect x="591.00" y="517.10" width="19.40" height="6.80" rx="3.3999999999999995" fill="none" stroke="#d2d2d2" stroke-width="1.4" />
<line x1="595.10" y1="520.50" x2="606.30" y2="520.50" stroke="#d2d2d2" stroke-width="1.1" stroke-opacity="0.5"/>
<rect x="617.90" y="516.10" width="18.40" height="8.40" rx="1.0" fill="none" stroke="#d2d2d2" stroke-width="1.4" />
<line x1="618.60" y1="520.69" x2="635.60" y2="520.69" stroke="#d2d2d2" stroke-width="1.1" stroke-opacity="0.85"/>
<rect x="597.60" y="529.20" width="5.60" height="3.00" rx="0.5" fill="#f4f4f4" stroke="#d9d9d9" stroke-width="1.0" />
<rect x="624.30" y="529.20" width="6.00" height="3.00" rx="0.5" fill="#f4f4f4" stroke="#d9d9d9" stroke-width="1.0" />
<path d="M707.0,475.8 L782.3,475.8 Q787.3,475.8 787.3,480.8 L787.3,527.3 Q787.3,532.3 782.3,532.3 L722.4,532.3 Q720.4,532.3 719.0,530.9 L703.4,515.0 Q702.0,513.6 702.0,511.6 L702.0,480.8 Q702.0,475.8 707.0,475.8 Z" fill="#fff" stroke="#7c7575" stroke-width="1.6" stroke-linejoin="round"/>
<rect x="703.30" y="495.90" width="2.20" height="6.40" rx="0.4" fill="none" stroke="#dadada" stroke-width="0.9" />
<path d="M711.2,494.7 L722.8,494.7 Q724.1999999999999,494.7 724.1999999999999,496.09999999999997 L724.1999999999999,500.3 Q724.1999999999999,501.3 723.1999999999999,502.5 Q722.1999999999999,503.7 720.8,503.7 L713.2,503.7 Q711.8000000000001,503.7 710.8000000000001,502.5 Q709.8000000000001,501.3 709.8000000000001,500.3 L709.8000000000001,496.09999999999997 Q709.8000000000001,494.7 711.2,494.7 Z" fill="none" stroke="#d2d2d2" stroke-width="1.4" stroke-linejoin="round"/>
<line x1="712.70" y1="498.60" x2="721.30" y2="498.60" stroke="#d2d2d2" stroke-width="1.1" stroke-opacity="0.8"/>
<path d="M730.4,516.5 L748.8000000000001,516.5 Q750.3000000000001,516.5 750.3000000000001,518.0 L750.3000000000001,520.7 L747.1,523.7 Q746.7,524.3000000000001 745.9000000000001,524.3000000000001 L733.3,524.3000000000001 Q732.5,524.3000000000001 732.1,523.7 L728.9,520.7 L728.9,518.0 Q728.9,516.5 730.4,516.5 Z" fill="none" stroke="#3db5e6" stroke-width="1.8" stroke-linejoin="round"/>
<line x1="734.96" y1="520.11" x2="744.24" y2="520.11" stroke="#3db5e6" stroke-width="1.6" stroke-linecap="round"/>
<rect x="759.45" y="517.45" width="19.50" height="6.30" rx="3.15" fill="none" stroke="#3db5e6" stroke-width="1.7" />
<line x1="763.40" y1="520.60" x2="775.00" y2="520.60" stroke="#3db5e6" stroke-width="1.1" stroke-opacity="0.5"/>
<rect x="737.00" y="529.20" width="5.80" height="3.00" rx="0.5" fill="#cdebf9" stroke="#3db5e6" stroke-width="1.0" />
<rect x="766.50" y="529.20" width="5.60" height="3.00" rx="0.5" fill="#cdebf9" stroke="#3db5e6" stroke-width="1.0" />
<line x1="661.40" y1="524.20" x2="667.40" y2="534.80" stroke="#cccccc" stroke-width="0.6"/>
<line x1="709.40" y1="523.80" x2="702.60" y2="534.80" stroke="#cccccc" stroke-width="0.6"/>
<rect x="657.10" y="535.10" width="56.50" height="34.70" rx="1.8" fill="#efefef" stroke="#7a7474" stroke-width="1.6" />
<rect x="657.90" y="564.10" width="54.90" height="4.90" fill="#fbfbfb"/>
<line x1="657.30" y1="564.10" x2="713.40" y2="564.10" stroke="#7a7474" stroke-width="1.8"/>
<path d="M657.8,542.0999999999999 Q664.9,541.6999999999999 665.5,546.6999999999999 L665.6999999999999,555.9 Q665.5,558.3 663.3,557.9 Q661.9,557.5 661.5,555.3 L660.9,548.6999999999999 Q660.5,546.3 657.8,546.5" fill="#dcdcdc" stroke="#7e7878" stroke-width="1.1" stroke-linejoin="round"/>
<path d="M712.9,542.0999999999999 Q705.8,541.6999999999999 705.1999999999999,546.6999999999999 L705.0,555.9 Q705.1999999999999,558.3 707.4,557.9 Q708.8,557.5 709.1999999999999,555.3 L709.8,548.6999999999999 Q710.1999999999999,546.3 712.9,546.5" fill="#dcdcdc" stroke="#7e7878" stroke-width="1.1" stroke-linejoin="round"/>
<path d="M667.6999999999999,537.0 L676.7999999999998,537.0 Q678.3999999999999,537.0 678.3999999999999,538.6 L678.3999999999999,546.1999999999999 L674.7999999999998,549.8 L667.6999999999999,549.8 Q666.0999999999999,549.8 666.0999999999999,548.1999999999999 L666.0999999999999,538.6 Q666.0999999999999,537.0 667.6999999999999,537.0 Z" fill="#e4e4e4" stroke="#8a8a8a" stroke-width="1.1" stroke-linejoin="round"/>
<circle cx="672.25" cy="543.40" r="0.6" fill="#999"/>
<path d="M693.1999999999999,537.0 L702.7999999999998,537.0 Q704.3999999999999,537.0 704.3999999999999,538.6 L704.3999999999999,548.1999999999999 Q704.3999999999999,549.8 702.7999999999998,549.8 L695.1999999999999,549.8 L691.5999999999999,546.1999999999999 L691.5999999999999,538.6 Q691.5999999999999,537.0 693.1999999999999,537.0 Z" fill="#bfe0f6" stroke="#8a8a8a" stroke-width="1.1" stroke-linejoin="round"/>
<circle cx="698.00" cy="543.40" r="0.9" fill="#222"/>
<g style="mix-blend-mode:multiply"><path d="M526.2,435.8 L759,435.8 Q768.7,435.8 768.7,445.4 L768.7,497" fill="none" stroke="#9dd7f2" stroke-width="3.4" stroke-linecap="butt" stroke-linejoin="round"/><path d="M526.2,435.8 L759,435.8 Q768.7,435.8 768.7,445.4 L768.7,497" fill="none" stroke="#addff5" stroke-width="1.4" stroke-linecap="butt" stroke-linejoin="round"/></g>
<g style="mix-blend-mode:multiply"><path d="M531,463.4 L731.5,463.4 Q739.5,463.4 739.5,471.4 L739.5,493" fill="none" stroke="#b8e2f6" stroke-width="4.4" stroke-linecap="butt" stroke-linejoin="round"/><path d="M531,463.4 L731.5,463.4 Q739.5,463.4 739.5,471.4 L739.5,493" fill="none" stroke="#ffffff" stroke-width="1.8" stroke-linecap="butt" stroke-linejoin="round"/></g>
<rect x="509.20" y="432.20" width="7.2" height="6.8" fill="#fff" stroke="#3db5e6" stroke-width="1.1"/>
<line x1="511.20" y1="432.80" x2="511.20" y2="438.40" stroke="#3db5e6" stroke-width="0.9"/>
<line x1="513.00" y1="432.80" x2="513.00" y2="438.40" stroke="#3db5e6" stroke-opacity="0.5" stroke-width="0.8"/>
<rect x="516.20" y="431.70" width="6.4" height="7.8" rx="0.8" fill="#eaf6fc" stroke="#3db5e6" stroke-width="1.15"/>
<path d="M522.6,433.40000000000003 L525.6,434.3 L525.6,436.90000000000003 L522.6,437.8 Z" fill="#8dd1f0" stroke="#3db5e6" stroke-width="1"/>
<rect x="509.20" y="459.20" width="6.2" height="8.4" rx="1" fill="#fff" stroke="#3db5e6" stroke-width="1.15"/>
<line x1="512.00" y1="460.80" x2="512.00" y2="466.00" stroke="#3db5e6" stroke-opacity="0.3" stroke-width="0.8"/>
<path d="M515.4,457.79999999999995 Q515.4,457.4 516.0,457.4 L523.8000000000001,457.4 L525.0,458.79999999999995 L527.2,458.79999999999995 L530.2,461.79999999999995 L530.2,465.0 L527.2,468.0 L525.0,468.0 L523.8000000000001,469.4 L516.0,469.4 Q515.4,469.4 515.4,469.0 Z" fill="#eaf5fc" stroke="#3db5e6" stroke-width="1.2" stroke-linejoin="round"/>
<rect x="767.20" y="496.60" width="3.0" height="2.40" fill="#d9f0fb" stroke="#3db5e6" stroke-width="0.9"/>
<rect x="765.10" y="498.40" width="7.2" height="10.6" rx="0.8" fill="#eaf6fc" stroke="#3db5e6" stroke-width="1.1"/>
<line x1="768.70" y1="500.00" x2="768.70" y2="507.40" stroke="#fff" stroke-width="1.6"/>
<rect x="766.00" y="509.00" width="5.4" height="3.8" fill="#fff" stroke="#3db5e6" stroke-width="1.1"/>
<path d="M737.9,492.5 L741.1,492.5 L744.5,495.3 Q745.5,496.1 745.5,497.3 L745.5,506.1 L733.5,506.1 L733.5,497.3 Q733.5,496.1 734.5,495.3 Z" fill="#eaf5fc" stroke="#3db5e6" stroke-width="1.2" stroke-linejoin="round"/>
<rect x="734.90" y="506.10" width="9.2" height="6.9" rx="0.8" fill="#fff" stroke="#3db5e6" stroke-width="1.15"/>
<line x1="736.90" y1="509.10" x2="742.10" y2="509.10" stroke="#3db5e6" stroke-opacity="0.3" stroke-width="0.8"/>
<line x1="6.9" y1="204.5" x2="366" y2="204.5" stroke="#e3e3e3" stroke-width="1.6" stroke-dasharray="1 2"/>
<circle cx="186.5" cy="204.5" r="10" fill="#fff"/>
<circle cx="186.5" cy="204.5" r="8.7" fill="#9a9a9a"/>
<text x="186.50" y="207.30" font-size="7.6" font-weight="bold" fill="#fff" text-anchor="middle" textLength="10.2" lengthAdjust="spacingAndGlyphs" >OR</text>
<line x1="6.9" y1="391.3" x2="366" y2="391.3" stroke="#e3e3e3" stroke-width="1.6" stroke-dasharray="1 2"/>
<circle cx="186.5" cy="391.3" r="10" fill="#fff"/>
<circle cx="186.5" cy="391.3" r="8.7" fill="#9a9a9a"/>
<text x="186.50" y="394.10" font-size="7.6" font-weight="bold" fill="#fff" text-anchor="middle" textLength="10.2" lengthAdjust="spacingAndGlyphs" >OR</text>
<line x1="426.3" y1="204.5" x2="786.2" y2="204.5" stroke="#e3e3e3" stroke-width="1.6" stroke-dasharray="1 2"/>
<circle cx="606.0" cy="204.5" r="10" fill="#fff"/>
<circle cx="606.0" cy="204.5" r="8.7" fill="#9a9a9a"/>
<text x="606.00" y="207.30" font-size="7.6" font-weight="bold" fill="#fff" text-anchor="middle" textLength="10.2" lengthAdjust="spacingAndGlyphs" >OR</text>
<line x1="426.3" y1="391.3" x2="786.2" y2="391.3" stroke="#e3e3e3" stroke-width="1.6" stroke-dasharray="1 2"/>
<circle cx="606.0" cy="391.3" r="10" fill="#fff"/>
<circle cx="606.0" cy="391.3" r="8.7" fill="#9a9a9a"/>
<text x="606.00" y="394.10" font-size="7.6" font-weight="bold" fill="#fff" text-anchor="middle" textLength="10.2" lengthAdjust="spacingAndGlyphs" >OR</text>
<text x="5.30" y="567.50" font-size="8.2" font-weight="bold" fill="#4a4646" text-anchor="start" textLength="5.0" lengthAdjust="spacingAndGlyphs" >4</text>
<text x="782.70" y="567.70" font-size="8.2" font-weight="bold" fill="#4a4646" text-anchor="start" textLength="4.8" lengthAdjust="spacingAndGlyphs" >5</text>
</svg>
</body></html>
